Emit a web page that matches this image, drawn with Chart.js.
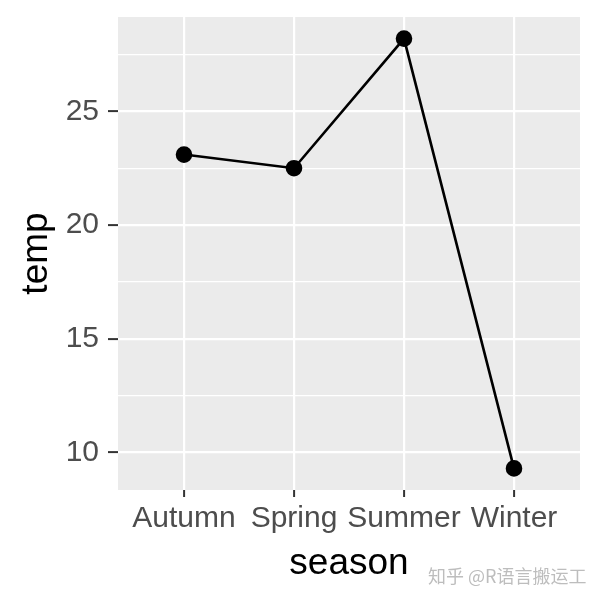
<!DOCTYPE html>
<html>
<head>
<meta charset="utf-8">
<script src="https://cdn.jsdelivr.net/npm/chart.js@4.4.0/dist/chart.umd.min.js"></script>
<style>
  html, body { margin: 0; padding: 0; background: #fff; }
  #wrap { width: 600px; height: 600px; }
</style>
</head>
<body>
<div id="wrap"><canvas id="chart"></canvas></div>
<script>
// Data
const seasons = ['Autumn', 'Spring', 'Summer', 'Winter'];
const temps = [23.1, 22.5, 28.2, 9.3];
const yMajorTicks = [10, 15, 20, 25];
const yMinorTicks = [12.5, 17.5, 22.5, 27.5];

const FONT = '"Liberation Sans", Arial, sans-serif';

// grey panel behind the plot area, ggplot style
const panelBackground = {
    id: 'panelBackground',
    beforeDraw(chart) {
        const { ctx, chartArea: a } = chart;
        ctx.save();
        ctx.fillStyle = '#EBEBEB';
        ctx.fillRect(a.left, a.top, a.right - a.left, a.bottom - a.top);
        ctx.restore();
    }
};

// watermark in the lower right corner
const watermark = {
    id: 'watermark',
    afterDraw(chart) {
        const ctx = chart.ctx;
        ctx.save();
        ctx.font = '18px "Noto Sans CJK SC", sans-serif';
        ctx.fillStyle = '#BDBDBD';
        ctx.textBaseline = 'middle';
        ctx.fillText('知乎 @R语言搬运工', 428, 576);
        ctx.restore();
    }
};

const isMajor = (v) => yMajorTicks.includes(v);

new Chart(document.getElementById('chart'), {
    type: 'line',
    data: {
        datasets: [{
            label: 'temp',
            data: seasons.map((s, i) => ({ x: i + 1, y: temps[i] })),
            borderColor: '#000',
            backgroundColor: '#000',
            borderWidth: 2.6,
            pointRadius: 7,
            pointHoverRadius: 7,
            tension: 0
        }]
    },
    options: {
        responsive: true,
        maintainAspectRatio: false,
        animation: false,
        layout: { padding: { top: 17, right: 20, left: 0, bottom: 0 } },
        plugins: {
            legend: { display: false },
            tooltip: { enabled: false }
        },
        scales: {
            x: {
                type: 'linear',
                min: 0.4,
                max: 4.6,
                afterBuildTicks: (scale) => {
                    scale.ticks = seasons.map((s, i) => ({ value: i + 1 }));
                },
                afterFit: (scale) => {
                    scale.height = 110;
                    scale.paddingLeft = 0;
                    scale.paddingRight = 0;
                },
                ticks: {
                    autoSkip: false,
                    maxRotation: 0,
                    padding: 4,
                    color: '#4D4D4D',
                    font: { family: FONT, size: 30 },
                    callback: (v) => seasons[v - 1]
                },
                grid: {
                    color: '#FFFFFF',
                    lineWidth: 2.2,
                    tickLength: 7,
                    tickColor: '#333333',
                    tickWidth: 2
                },
                border: { display: false },
                title: {
                    display: true,
                    text: 'season',
                    color: '#000',
                    font: { family: FONT, size: 37 },
                    padding: { top: 0, bottom: 14 }
                }
            },
            y: {
                type: 'linear',
                min: 8.35,
                max: 29.15,
                afterBuildTicks: (scale) => {
                    scale.ticks = yMajorTicks.concat(yMinorTicks)
                        .sort((a, b) => a - b)
                        .map(v => ({ value: v }));
                },
                afterFit: (scale) => {
                    scale.width = 118;
                    scale.paddingTop = 0;
                    scale.paddingBottom = 0;
                },
                ticks: {
                    padding: 9,
                    color: '#4D4D4D',
                    font: { family: FONT, size: 30 },
                    callback: (v) => isMajor(v) ? v : ''
                },
                grid: {
                    color: '#FFFFFF',
                    lineWidth: (c) => isMajor(c.tick.value) ? 2.2 : 1.2,
                    tickLength: 10,
                    tickColor: (c) => isMajor(c.tick.value) ? '#333333' : 'rgba(0,0,0,0)',
                    tickWidth: 2
                },
                border: { display: false },
                title: {
                    display: true,
                    text: 'temp',
                    color: '#000',
                    font: { family: FONT, size: 37 },
                    padding: { top: 15, bottom: 0 }
                }
            }
        }
    },
    plugins: [panelBackground, watermark]
});
</script>
</body>
</html>
